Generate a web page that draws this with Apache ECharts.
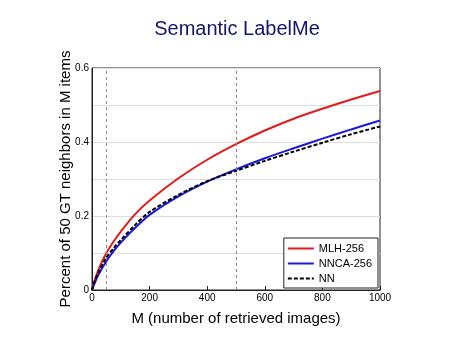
<!DOCTYPE html>
<html><head><meta charset="utf-8">
<script src="https://cdn.jsdelivr.net/npm/echarts@6/dist/echarts.min.js"></script>
<style>html,body{margin:0;padding:0;background:#fff}#c{width:474px;height:355px}</style>
</head><body><div id="c"></div>
<script>
const mValues = [0, 10, 25, 50, 75, 100, 150, 200, 300, 400, 500, 600, 700, 800, 900, 1000];
const mlh256 = [0, 0.028, 0.060, 0.100, 0.131, 0.158, 0.205, 0.242, 0.302, 0.352, 0.394, 0.431, 0.463, 0.490, 0.515, 0.538];
const nnca256 = [0, 0.020, 0.045, 0.078, 0.105, 0.128, 0.168, 0.203, 0.253, 0.293, 0.326, 0.356, 0.383, 0.409, 0.434, 0.458];
const nn = [0, 0.025, 0.052, 0.088, 0.113, 0.135, 0.176, 0.211, 0.257, 0.294, 0.322, 0.349, 0.374, 0.398, 0.421, 0.442];
const xTicks = [0, 200, 400, 600, 800, 1000];
const yTicks = [0, 0.2, 0.4, 0.6];
const markerLines = [50, 500];

const zip = (xs, ys) => xs.map((x, i) => [x, ys[i]]);
const font = 'Liberation Sans, Arial, sans-serif';
const chart = echarts.init(document.getElementById('c'));
chart.setOption({
  animation: false,
  title: { text: 'Semantic LabelMe', left: 'center', top: 14,
    textStyle: { color: '#14146e', fontSize: 20, fontWeight: 'normal', fontFamily: font } },
  grid: { left: 92, right: 94, top: 68, bottom: 65, show: true, borderColor: '#222', borderWidth: 1 },
  legend: {
    right: 96, top: 238, orient: 'vertical', itemGap: 4, itemWidth: 26, itemHeight: 10,
    backgroundColor: '#fff', borderColor: '#222', borderWidth: 1, padding: [5, 6, 4, 4],
    textStyle: { fontSize: 11, color: '#000', fontFamily: font },
    data: [
      { name: 'MLH-256', icon: 'path://M0,0 L26,0 L26,2 L0,2 Z' },
      { name: 'NNCA-256', icon: 'path://M0,0 L26,0 L26,2 L0,2 Z' },
      { name: 'NN', icon: 'path://M0,0 L4,0 L4,2 L0,2 Z M6,0 L10,0 L10,2 L6,2 Z M12,0 L16,0 L16,2 L12,2 Z M18,0 L22,0 L22,2 L18,2 Z M24,0 L26,0 L26,2 L24,2 Z' }
    ]
  },
  xAxis: {
    type: 'value', min: 0, max: 1000, interval: 200,
    name: 'M (number of retrieved images)', nameLocation: 'middle', nameGap: 21,
    nameTextStyle: { fontSize: 15, color: '#000', fontFamily: font },
    axisLine: { lineStyle: { color: '#222' } },
    axisTick: { inside: true, length: 4, lineStyle: { color: '#222' } },
    axisLabel: { fontSize: 10, color: '#000', margin: 3, fontFamily: font, formatter: v => String(v) },
    splitLine: { show: false }
  },
  yAxis: {
    type: 'value', min: 0, max: 0.6, interval: 0.1,
    name: 'Percent of 50 GT neighbors in M items', nameLocation: 'middle', nameGap: 19,
    nameMoveOverlap: false,
    nameTextStyle: { fontSize: 15, color: '#000', fontFamily: font },
    axisLine: { lineStyle: { color: '#222' } },
    axisTick: { show: false },
    axisLabel: { fontSize: 10, color: '#000', margin: 3, fontFamily: font,
      formatter: v => { const r = Math.round(v * 10); return r % 2 === 0 ? String(+(r/10).toFixed(1)) : ''; } },
    splitLine: { show: true, lineStyle: { color: '#ddd', width: 1 } }
  },
  series: [
    { name: 'MLH-256', type: 'line', smooth: 0.3, symbol: 'none', data: zip(mValues, mlh256),
      color: '#e01b1b', lineStyle: { color: '#e01b1b', width: 2 },
      markLine: { silent: true, symbol: 'none', label: { show: false },
        lineStyle: { color: '#888', type: [3, 3], width: 1 },
        data: markerLines.map(x => ({ xAxis: x })) } },
    { name: 'NNCA-256', type: 'line', smooth: 0.3, symbol: 'none', data: zip(mValues, nnca256),
      color: '#1a1adc', lineStyle: { color: '#1a1adc', width: 2 } },
    { name: 'NN', type: 'line', smooth: 0.3, symbol: 'none', data: zip(mValues, nn),
      color: '#000', lineStyle: { color: '#000', width: 2, type: [4, 2] } }
  ]
});
</script></body></html>
